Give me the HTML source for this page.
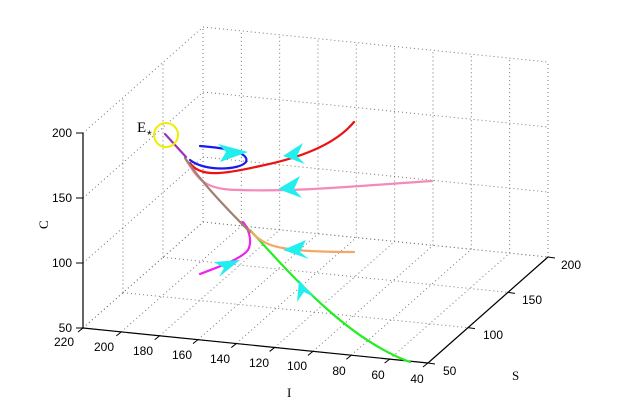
<!DOCTYPE html>
<html><head><meta charset="utf-8"><style>
body{margin:0;background:#fff}
svg{display:block;font-family:"Liberation Sans",sans-serif}
.t{font-size:12px;fill:#000}
.s{font-family:"Liberation Serif",serif;font-size:13px}
</style></head><body>
<svg id="g" width="622" height="417" viewBox="0 0 622 417" xmlns="http://www.w3.org/2000/svg">
<g id="grid" stroke="#777" stroke-width="1" stroke-dasharray="1,3" fill="none"></g>
<g stroke="#000" stroke-width="1.2" fill="none">
<line x1="83" y1="328" x2="83" y2="133"/>
<line x1="83" y1="328" x2="428" y2="363"/>
<line x1="428" y1="363" x2="548" y2="257"/>
</g>
<g id="ticks" stroke="#000" stroke-width="1" fill="none"></g>
<g class="t" text-anchor="end">
<text x="72" y="137">200</text><text x="72" y="202">150</text><text x="72" y="267">100</text><text x="72" y="332">50</text>
</g>
<g class="t" text-anchor="middle">
<text x="64" y="346">220</text><text x="104" y="351">200</text><text x="143" y="355">180</text><text x="182" y="359">160</text><text x="220" y="363">140</text><text x="259" y="367">120</text><text x="297" y="370">100</text><text x="339" y="375">80</text><text x="378" y="379">60</text><text x="417" y="383">40</text>
</g>
<g class="t" text-anchor="start">
<text x="443" y="375">50</text><text x="483" y="339">100</text><text x="522" y="304">150</text><text x="561" y="269">200</text>
</g>
<text class="s" x="287" y="397">I</text>
<text class="s" x="512" y="380">S</text>
<text class="s" x="47" y="238" transform="rotate(-90 43 233)">C</text>
<text class="s" x="137" y="132" style="font-size:15px">E</text><text x="147" y="139" style="font-size:12px">*</text>
<g fill="none" stroke-width="2.2" stroke-linecap="round">
<path d="M250,230 C300,285 350,340 410,362" stroke="#22ee22"/>
<path d="M354,122 C335,145 300,158 260,166 C225,174 200,178 190,163" stroke="#ee1111"/>
<path d="M200,146 C225,148 250,152 246,162 C240,170 205,172 190,160" stroke="#1a1aee"/>
<path d="M432,181 C370,185 300,192 240,190 C205,190 198,180 185,158" stroke="#f58ab8"/>
<path d="M354,252 C310,252 280,250 266,243 C256,238 252,233 246,226" stroke="#f4a868"/>
<path d="M200,274 C215,268 240,260 248,250 C253,240 248,228 243,222" stroke="#ee22ee"/>
<path d="M185,158 C200,180 220,202 250,232" stroke="#a08070"/>
<path d="M165,134 L186,157" stroke="#9933bb"/>
</g>
<g fill="#22eeee">
<polygon points="248,152 218,144 226,152 220,162"/>
<polygon points="283,156 303,143 297,156 305,164"/>
<polygon points="278,189 300,176 294,189 302,198"/>
<polygon points="240,260 214,262 224,268 219,277"/>
<polygon points="283,250 306,240 300,252 309,259"/>
<polygon points="299,280 297,302 304,292 314,297"/>
</g>
<circle cx="166" cy="135" r="12" fill="none" stroke="#eeee00" stroke-width="2"/>
</svg>
<script>
function P(I,S,C){return [83+(220-I)/20*38.33+(S-50)/50*40, 328+(220-I)/20*3.89-(S-50)/50*35.33-(C-50)/50*65];}
var g=document.getElementById('grid'),tk=document.getElementById('ticks'),h='',t='';
function L(a,b){return '<line x1="'+a[0]+'" y1="'+a[1]+'" x2="'+b[0]+'" y2="'+b[1]+'"/>';}
for(var I=220;I>=40;I-=20){h+=L(P(I,50,50),P(I,200,50));h+=L(P(I,200,50),P(I,200,200));
 var a=P(I,50,50);t+=L(a,[a[0]-5,a[1]+4]);}
for(var S=50;S<=200;S+=50){h+=L(P(220,S,50),P(40,S,50));h+=L(P(220,S,50),P(220,S,200));
 var b=P(40,S,50);t+=L(b,[b[0]+7,b[1]+1]);}
for(var C=50;C<=200;C+=50){h+=L(P(220,200,C),P(40,200,C));h+=L(P(220,50,C),P(220,200,C));
 var c=P(220,50,C);t+=L(c,[c[0]-7,c[1]]);}
g.innerHTML=h;tk.innerHTML=t;
</script>
</body></html>
